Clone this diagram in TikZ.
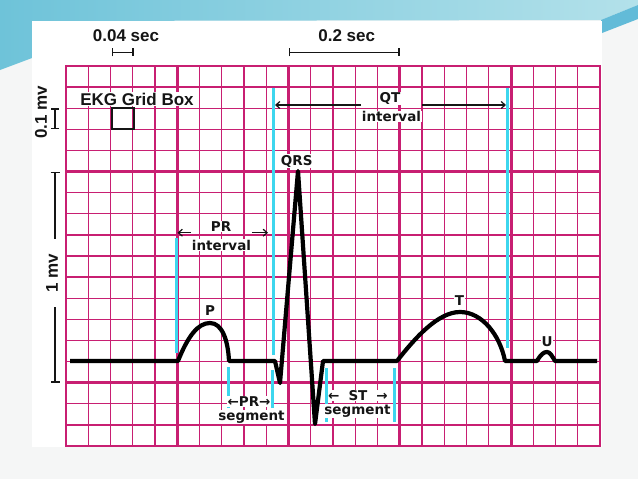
\documentclass[tikz,border=0pt]{standalone}
\usepackage{fontspec}
\setsansfont{Liberation Sans}
\newfontfamily\dejavu{DejaVu Sans}
\usetikzlibrary{arrows.meta}
\definecolor{ekgred}{HTML}{C81F72}
\definecolor{cyanline}{HTML}{3DD6EE}
\definecolor{skyA}{HTML}{6EC3D9}
\definecolor{skyB}{HTML}{B3E1EA}
\definecolor{skyC}{HTML}{62BBD8}
\definecolor{soft}{HTML}{F5F6F6}
\definecolor{ink}{HTML}{151515}

\begin{document}
\begin{tikzpicture}[x=1pt,y=-1pt,minor/.style={ekgred,line width=1.4pt,line cap=rect},major/.style={ekgred,line width=3pt},cyanmark/.style={cyanline,line width=3pt},ecg/.style={black,line width=4.2pt,line join=round},big/.style={font=\sffamily\bfseries\fontsize{17}{17}\selectfont,text=ink,inner sep=1pt},lbl/.style={font=\dejavu\bfseries\fontsize{13.5}{14}\selectfont,text=ink,fill=white,inner sep=0.6pt},dimbar/.style={ink,line width=1.5pt,{Bar[width=8pt]}-{Bar[width=8pt]}},tick/.style={ink,line width=1.5pt,{Bar[width=9pt]}-},arr/.style={ink,line width=1.2pt,-{Straight Barb[length=4pt,width=7pt]}}]
 \fill[soft] (0,0) rectangle (638,479);
 \shade[left color=skyA,right color=skyB] (0,0) -- (638,0) -- (638,5) -- (601,20) -- (32,21) -- (32,58) -- (0,70) -- cycle;
 \fill[skyC] (601,20) -- (638,5) -- (638,19) -- (602,33) -- cycle;
 \fill[white] (32,21) rectangle (602,447);
 \foreach \i in {0,...,24}{\draw[minor] (66+22.25*\i,66) -- (66+22.25*\i,446);}
 \foreach \j in {0,...,18}{\draw[minor] (66,66+21.11*\j) -- (600,66+21.11*\j);}
 \foreach \i in {5,10,15,20}{\draw[major] (66+22.25*\i,66) -- (66+22.25*\i,446);}
 \foreach \j in {5,15}{\draw[major] (66,66+21.11*\j) -- (600,66+21.11*\j);}
 \foreach \x/\a/\b in {176/238/353,273.5/88/355,507.5/88/348,228/367/408,272.5/370/408,326/368/422,394/368/422}{\draw[cyanmark] (\x,\a) -- (\x,\b);}
 \draw[ecg] (70,361) -- (178,361) .. controls (188,336) and (198,323) .. (210,323) .. controls (222,323) and (228,340) .. (229,361) -- (275,361) -- (280,383) -- (298,171) -- (315,424) -- (323,361) -- (397,361) .. controls (415,338) and (438,312) .. (460,312) .. controls (482,312) and (500,335) .. (505,361) -- (537,361) .. controls (541,354) and (544,352) .. (547,352) .. controls (550,352) and (552,356) .. (555,361) -- (597,361);
 \coordinate (s1a) at (111.5,52.3); \coordinate (s1b) at (133.75,52.3);
 \coordinate (s2a) at (288.5,52.3); \coordinate (s2b) at (399.75,52.3);
 \coordinate (mva) at (55,108.2); \coordinate (mvb) at (55,129.3);
 \coordinate (mvtop) at (55,171.5); \coordinate (mvbot) at (55,382.7);
 \node[big,anchor=base] (sec1) at (126,41.7) {0.04 sec};
 \node[big,anchor=base] (sec2) at (346.7,41.7) {0.2 sec};
 \draw[dimbar] (s1a) -- (s1b); \draw[dimbar] (s2a) -- (s2b);
 \node[big,anchor=base,fill=white] (gridbox) at (137,105) {EKG Grid Box};
 \draw[ink,line width=2pt] (111.5,108.2) rectangle (133.75,129.3);
 \node[big,rotate=90] (mvsmall) at (41,112) {0.1 mv};
 \draw[dimbar] (mva) -- (mvb);
 \node[big,rotate=90,inner xsep=14pt] (mvbig) at (52,273) {1 mv};
 \draw[tick] (mvtop) -- (mvbig.east -| mvtop); \draw[tick] (mvbot) -- (mvbig.west -| mvbot);
 \node[lbl,anchor=base] (qt) at (390,102.7) {QT};
 \node[lbl,anchor=base] (qtint) at (391.5,121.7) {interval};
 \coordinate (qtL) at (275,105); \coordinate (qtR) at (506,105);
 \draw[arr] (qtint.west |- qtL) -- (qtL); \draw[arr] (qtint.east |- qtR) -- (qtR);
 \node[lbl,anchor=base] (qrs) at (296.7,165) {QRS};
 \node[lbl,anchor=base] (pr) at (221,231.7) {PR};
 \node[lbl,anchor=base] (print) at (221.5,250) {interval};
 \coordinate (prL) at (177.5,232.7); \coordinate (prR) at (268,232.7);
 \draw[arr] (print.west |- prL) -- (prL); \draw[arr] (print.east |- prR) -- (prR);
 \node[lbl,anchor=base] (p) at (210,315) {P};
 \node[lbl,anchor=base] (t) at (459.5,305) {T};
 \node[lbl,anchor=base] (u) at (547,346) {U};
 \node[lbl,anchor=base] (prseg) at (249,406.8) {←PR→};
 \node[lbl,anchor=base] (prsegb) at (251.5,420.5) {segment};
 \node[lbl,anchor=base] (stseg) at (358,400.2) {←\hspace{9pt}ST\hspace{9pt}→};
 \node[lbl,anchor=base] (stsegb) at (357.5,414.5) {segment};
\end{tikzpicture}
\end{document}
